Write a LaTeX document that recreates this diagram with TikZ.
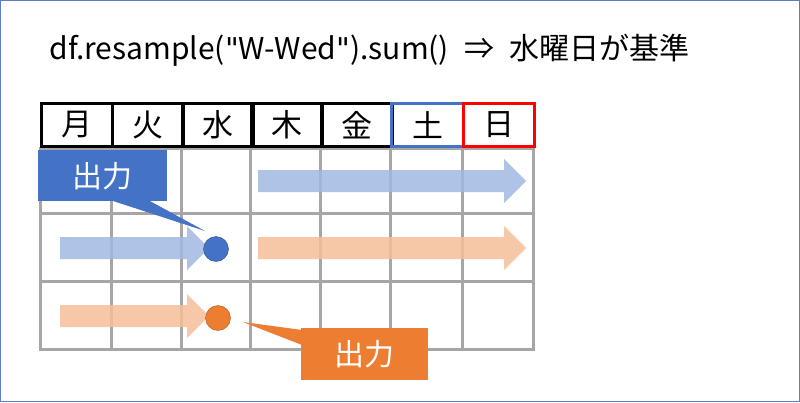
\documentclass[tikz,border=0pt]{standalone}
\usepackage{fontspec}
\setmainfont{Noto Sans CJK JP}
\newfontfamily\qfont{DejaVu Sans}
\begin{document}
\begin{tikzpicture}[x=1pt,y=-1pt,
  hdr/.style={draw=black,line width=3pt,minimum width=70pt,minimum height=43pt,font=\fontsize{31}{32}\selectfont,inner sep=0pt},
  callout/.style={font=\fontsize{30}{32}\selectfont,text=white,inner sep=0pt}]
\definecolor{arrblue}{HTML}{A0B8E0}
\definecolor{arrorange}{HTML}{F6BE98}
\definecolor{dblue}{HTML}{4472C4}
\definecolor{dorange}{HTML}{ED7D31}
\definecolor{framec}{HTML}{5B7FC4}
\useasboundingbox (0,0) rectangle (800,402);
\draw[framec,line width=1pt] (0.5,0.5) rectangle (799.5,401.5);
\node[anchor=west,font=\fontsize{30}{32}\selectfont] (title) at (46,50) {df.resample({\qfont\char"22}W-Wed{\qfont\char"22}).sum()\enspace ⇒\enspace 水曜日が基準};
% grid
\draw[gray!70,line width=3pt] (40,148) rectangle (533,349);
\foreach \x in {111,181,250,320,390,462} \draw[gray!70,line width=3pt] (\x,148) -- (\x,349);
\foreach \y in {213,281} \draw[gray!70,line width=3pt] (40,\y) -- (533,\y);
% header
\foreach \t/\x [count=\i] in {月/40,火/111,水/181,木/250,金/320} \node[hdr,minimum width=71pt,anchor=north west] (h\i) at (\x,102) {\t};
\node[hdr,draw=dblue,minimum width=72pt,anchor=north west] (h6) at (390,102) {土};
\node[hdr,draw=red,minimum width=71pt,anchor=north west] (h7) at (462,102) {日};
% arrows
\newcommand{\bigarr}[4]{\fill[#4,opacity=0.85] (#1,#3-11) -- (#2-22,#3-11) -- (#2-22,#3-22) -- (#2,#3) -- (#2-22,#3+22) -- (#2-22,#3+11) -- (#1,#3+11) -- cycle;}
\bigarr{258}{526}{181}{arrblue}
\bigarr{60}{209}{248}{arrblue}
\bigarr{258}{526}{248}{arrorange}
\bigarr{60}{209}{316}{arrorange}
\node[circle,fill=dblue,draw=dblue!70!black,minimum size=25pt,inner sep=0pt] (c1) at (216,249) {};
\node[circle,fill=dorange,draw=dorange!70!black,minimum size=25pt,inner sep=0pt] (c2) at (218,318) {};
% callouts
\fill[dblue] (110,200) -- (205,231) -- (148,200) -- cycle;
\node[callout,fill=dblue,minimum width=129pt,minimum height=51pt,anchor=north west] (o1) at (38,150) {出力};
\fill[dorange] (302,345) -- (243,322) -- (302,330) -- cycle;
\node[callout,fill=dorange,minimum width=127pt,minimum height=52pt,anchor=north west] (o2) at (301,328) {出力};
\end{tikzpicture}
\end{document}
